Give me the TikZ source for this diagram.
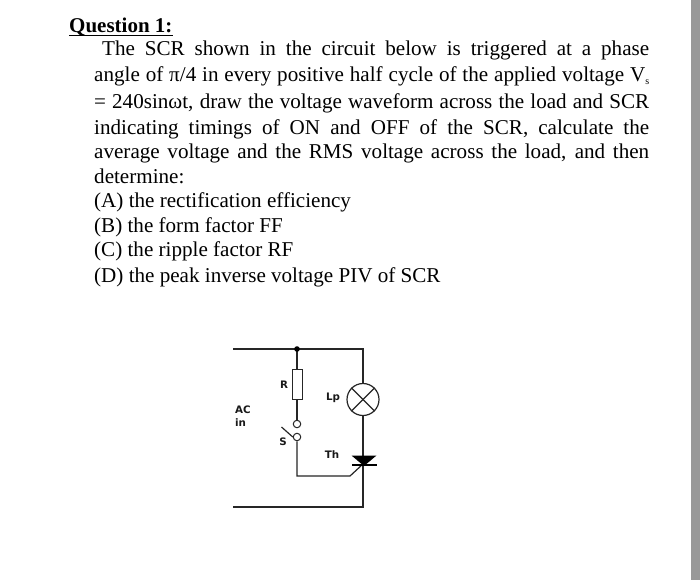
\documentclass[tikz,border=0pt]{standalone}
\usepackage{fontspec}
\setmainfont{Liberation Serif}
\newfontfamily\labelfont{DejaVu Sans}
\tikzset{
    wire/.style={draw=black!85, line width=1.2pt},
    lbl/.style={font=\labelfont\bfseries\fontsize{10.3}{11}\selectfont, text=black!90, inner sep=0pt},
    contact/.style={circle, draw=black!85, line width=1pt, fill=white, minimum size=7.5pt, inner sep=0pt},
    para/.style={inner sep=0pt, anchor=north west, align=justify, font=\fontsize{21.1}{25}\selectfont}
}
\begin{document}
\begin{tikzpicture}[x=1pt, y=-1pt]
    \useasboundingbox (0, 0) rectangle (700, 580);
    \fill[white] (0, 0) rectangle (700, 580);
    \fill[black!40] (691, 0) rectangle (700, 580);
    % text
    \node[anchor=base west, inner sep=0pt, font=\fontsize{21}{25}\selectfont\bfseries] (title) at (69, 32.5) {Question 1:};
    \draw[black, line width=1.2pt] ([yshift=-3pt]title.base west) -- ([yshift=-3pt]title.base east);
    \node[para, text width=555pt] (body) at (94, 41) {\hspace*{8pt}The SCR shown in the circuit below is triggered at a phase\vadjust{\vskip1pt}\linebreak
        angle of π/4 in every positive half cycle of the applied voltage V\raisebox{-3pt}{\fontsize{10}{10}\selectfont s}\vadjust{\vskip2pt}\linebreak
        = 240sinωt, draw the voltage waveform across the load and SCR\vadjust{\vskip1pt}\linebreak
        indicating timings of ON and OFF of the SCR, calculate the\vadjust{\vskip-1pt}\linebreak
        average voltage and the RMS voltage across the load, and then\linebreak
        determine:\par\vskip-1pt
        (A) the rectification efficiency\par
        (B) the form factor FF\par\vskip-1pt
        (C) the ripple factor RF\par\vskip1pt
        (D) the peak inverse voltage PIV of SCR};
    % circuit
    \coordinate (topleft) at (233, 349);
    \coordinate (junction) at (297, 349);
    \coordinate (topright) at (363, 349);
    \coordinate (botleft) at (233, 507);
    \coordinate (botright) at (363, 507);
    \coordinate (gatecorner) at (297, 476);
    \coordinate (gatebend) at (350, 476);
    \coordinate (gate) at (363, 464);
    \coordinate (bladeend) at (281.5, 427);
    \coordinate (anode) at (363, 455.5);
    \coordinate (cathode) at (363, 465.5);
    \node[draw=black!85, line width=1pt, fill=white, minimum width=10pt, minimum height=30pt, inner sep=0pt] (res) at (297, 384) {};
    \node[contact] (swtop) at (297, 424) {};
    \node[contact] (swbot) at (297, 437) {};
    \node[circle, draw=black!85, line width=1.2pt, minimum size=32pt, inner sep=0pt] (lamp) at (363, 399.5) {};
    \draw[wire] (topleft) -- (junction) -- (topright) -- (lamp.north);
    \draw[wire] (junction) -- (res.north);
    \draw[wire] (res.south) -- (swtop.north);
    \draw[wire] (bladeend) -- (swbot.west);
    \draw[wire] (swbot.south) -- (gatecorner) -- (gatebend) -- (gate);
    \draw[wire] (lamp.south) -- (anode);
    \draw[wire] (cathode) -- (botright) -- (botleft);
    \draw[wire] (lamp.45) -- (lamp.225);
    \draw[wire] (lamp.135) -- (lamp.315);
    \fill[black] (junction) circle (2.8pt);
    \fill[black] (351.5, 455.5) -- (376.5, 455.5) -- (364, 466) -- cycle;
    \draw[black, line width=1.8pt] (352, 465) -- (377, 465);
    \node[lbl] (rlabel) at (284, 385) {R};
    \node[lbl] (lplabel) at (333, 398) {Lp};
    \node[lbl] (thlabel) at (332, 455) {Th};
    \node[lbl, anchor=west] (aclabel) at (235, 410) {AC};
    \node[lbl, anchor=west] (inlabel) at (235, 423) {in};
    \node[lbl] (slabel) at (283, 442) {S};
\end{tikzpicture}
\end{document}
